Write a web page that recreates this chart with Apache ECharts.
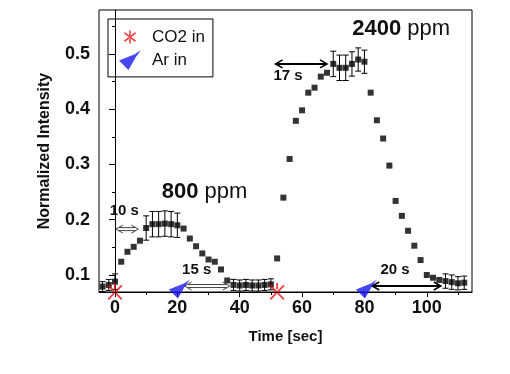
<!DOCTYPE html>
<html><head><meta charset="utf-8">
<script src="https://cdn.jsdelivr.net/npm/echarts@6/dist/echarts.min.js"></script>
<style>html,body{margin:0;padding:0;background:#fff}#c{width:510px;height:374px}</style>
</head><body><div id="c"></div>
<script>
// ---- data ----
const times = [-4,-2,0,2,4,6,8,10,12,14,16,18,20,22,24,26,28,30,32,34,36,38,40,42,44,46,48,50,52,54,56,58,60,62,64,66,68,70,72,74,76,78,80,82,84,86,88,90,92,94,96,98,100,102,104,106,108,110,112];
const intensity = [0.079,0.082,0.088,0.124,0.142,0.151,0.162,0.185,0.192,0.192,0.193,0.192,0.190,0.184,0.166,0.152,0.139,0.128,0.124,0.110,0.090,0.082,0.081,0.082,0.081,0.081,0.082,0.083,0.130,0.240,0.310,0.379,0.398,0.430,0.439,0.459,0.466,0.482,0.475,0.475,0.482,0.490,0.486,0.430,0.380,0.347,0.298,0.234,0.207,0.180,0.153,0.127,0.100,0.095,0.091,0.089,0.087,0.085,0.086];
const errors = [0.009,0.010,0.014,0,0,0,0,0.022,0.023,0.023,0.023,0.023,0.022,0,0,0,0,0,0,0,0,0.010,0.010,0.010,0.010,0.010,0.010,0.010,0,0,0,0,0,0,0,0,0,0.023,0.023,0.023,0.022,0.021,0.021,0,0,0,0,0,0,0,0,0,0,0,0,0.013,0.013,0.012,0.012];
const co2InTimes = [0, 52];
const arInTimes = [20, 80];
const yTickValues = [0.1, 0.2, 0.3, 0.4, 0.5];
const yMinorTicks = [0.15, 0.25, 0.35, 0.45, 0.55];
const xTickValues = [0, 20, 40, 60, 80, 100];
const xMinorTicks = [10, 30, 50, 70, 90, 110];
// arrow annotations
const arrowLabels = ['10 s', '15 s', '17 s', '20 s'];
const arrowFrom = [0.3, 22.3, 51.5, 82.5];
const arrowTo = [7.5, 36.8, 68.0, 104.5];
const arrowY = [0.183, 0.080, 0.482, 0.080];
const arrowLabelX = [3.0, 26.2, 55.5, 89.8];
const arrowLabelY = [0.2165, 0.110, 0.460, 0.109];
const arrowHollow = [true, true, false, false];
// concentration labels
const concValues = ['800', '2400'];
const concX = [28.7, 91.8];
const concY = [0.250, 0.545];

const X_MIN = -5.13, X_MAX = 114.5, Y_MIN = 0.0692, Y_MAX = 0.5796;
const FONT = "'Liberation Sans', Arial, sans-serif";

const asteriskPath = 'path://M6.2,0 L7.8,0 L7.8,6 L6.2,6 Z M0.4,3.0 L1.6,1.8 L13.6,15.2 L12.4,16.4 Z M0.4,15.2 L1.6,16.4 L13.6,3.0 L12.4,1.8 Z';
const asteriskLegend = 'path://M0,0 L0.01,0 Z M22,22 L21.99,22 Z M10.2,4.5 L11.8,4.5 L11.8,17.5 L10.2,17.5 Z M5.0,7.4 L5.8,6.1 L17.0,14.6 L16.2,15.9 Z M5.0,14.6 L5.8,15.9 L17.0,7.4 L16.2,6.1 Z';
const trianglePath = 'path://M0,10 L15,4 L21,0 L16,7 L9,19 Z';

const chart = echarts.init(document.getElementById('c'), null, {renderer: 'canvas'});

const points = times.map((t, i) => [t, intensity[i]]);
const errData = times.map((t, i) => [t, intensity[i], errors[i]]).filter(d => d[2] > 0);

function renderErr(params, api) {
  const x = api.value(0), y = api.value(1), e = api.value(2);
  const hi = api.coord([x, y + e]), lo = api.coord([x, y - e]);
  const w = 3, st = {stroke: '#000', lineWidth: 1};
  return {type: 'group', children: [
    {type: 'line', shape: {x1: hi[0], y1: hi[1], x2: lo[0], y2: lo[1]}, style: st},
    {type: 'line', shape: {x1: hi[0] - w, y1: hi[1], x2: hi[0] + w, y2: hi[1]}, style: st},
    {type: 'line', shape: {x1: lo[0] - w, y1: lo[1], x2: lo[0] + w, y2: lo[1]}, style: st}
  ]};
}

function renderArrow(params, api) {
  const i = params.dataIndex;
  const p1 = api.coord([arrowFrom[i], arrowY[i]]);
  const p2 = api.coord([arrowTo[i], arrowY[i]]);
  const lp = api.coord([arrowLabelX[i], arrowLabelY[i]]);
  const y = p1[1];
  const hx = 7, hy = 4;
  const children = [];
  if (arrowHollow[i]) {
    const st = {stroke: '#444', lineWidth: 1, fill: null};
    children.push({type: 'line', shape: {x1: p1[0] + 3, y1: y - 1.5, x2: p2[0] - 3, y2: y - 1.5}, style: st});
    children.push({type: 'line', shape: {x1: p1[0] + 3, y1: y + 1.5, x2: p2[0] - 3, y2: y + 1.5}, style: st});
    children.push({type: 'polyline', shape: {points: [[p1[0] + hx, y - hy], [p1[0], y], [p1[0] + hx, y + hy]]}, style: st});
    children.push({type: 'polyline', shape: {points: [[p2[0] - hx, y - hy], [p2[0], y], [p2[0] - hx, y + hy]]}, style: st});
  } else {
    const st = {stroke: '#000', lineWidth: 1.6, fill: null};
    children.push({type: 'line', shape: {x1: p1[0], y1: y, x2: p2[0], y2: y}, style: {stroke: '#000', lineWidth: 2}});
    children.push({type: 'polyline', shape: {points: [[p1[0] + hx, y - hy], [p1[0], y], [p1[0] + hx, y + hy]]}, style: st});
    children.push({type: 'polyline', shape: {points: [[p2[0] - hx, y - hy], [p2[0], y], [p2[0] - hx, y + hy]]}, style: st});
  }
  children.push({type: 'text', x: lp[0], y: lp[1], style: {text: arrowLabels[i], font: 'bold 15px ' + FONT, fill: '#111', align: 'center', verticalAlign: 'middle'}});
  return {type: 'group', children};
}

function renderConc(params, api) {
  const i = params.dataIndex;
  const p = api.coord([concX[i], concY[i]]);
  return {type: 'text', x: p[0], y: p[1], style: {
    text: '{b|' + concValues[i] + '}{n| ppm}',
    align: 'center', verticalAlign: 'middle', fill: '#111',
    rich: {b: {fontWeight: 'bold', fontSize: 22, fontFamily: FONT, fill: '#111'},
           n: {fontSize: 22, fontFamily: FONT, fill: '#111'}}
  }};
}

const option = {
  animation: false,
  backgroundColor: '#fff',
  textStyle: {fontFamily: FONT},
  grid: {left: 99, right: 38, top: 10, bottom: 82, show: true, borderColor: '#000', borderWidth: 1, backgroundColor: 'transparent'},
  legend: {
    orient: 'vertical', left: 108, top: 19,
    padding: [7, 8, 7, 11], itemGap: 2,
    itemWidth: 22, itemHeight: 22,
    borderColor: '#000', borderWidth: 1,
    textStyle: {fontSize: 17, color: '#111', fontFamily: FONT, padding: [0, 0, 0, 6]},
    data: [{name: 'CO2 in', icon: asteriskLegend}, {name: 'Ar in', icon: trianglePath}]
  },
  xAxis: [{
    type: 'value', min: X_MIN, max: X_MAX,
    name: 'Time [sec]', nameLocation: 'middle', nameGap: 37,
    nameTextStyle: {fontWeight: 'bold', fontSize: 15, color: '#111', fontFamily: FONT},
    axisLine: {lineStyle: {color: '#000', width: 1}},
    axisTick: {customValues: xTickValues, length: 5, lineStyle: {color: '#000'}},
    axisLabel: {customValues: xTickValues, fontSize: 18, fontWeight: 'bold', color: '#111', margin: 7, fontFamily: FONT},
    splitLine: {show: false}
  }, {
    type: 'value', min: X_MIN, max: X_MAX, position: 'bottom',
    axisLine: {show: false},
    axisTick: {customValues: xMinorTicks, length: 3, lineStyle: {color: '#000'}},
    axisLabel: {show: false}, splitLine: {show: false}
  }],
  yAxis: [{
    type: 'value', min: Y_MIN, max: Y_MAX,
    name: 'Normalized Intensity', nameLocation: 'middle', nameGap: 46,
    nameTextStyle: {fontWeight: 'bold', fontSize: 16, color: '#111', fontFamily: FONT},
    axisLine: {show: true, lineStyle: {color: '#000', width: 1}},
    axisTick: {show: true, customValues: yTickValues, length: 6, lineStyle: {color: '#000'}},
    axisLabel: {customValues: yTickValues, fontSize: 18, fontWeight: 'bold', color: '#111', margin: 9, fontFamily: FONT},
    splitLine: {show: false}
  }, {
    type: 'value', min: Y_MIN, max: Y_MAX, position: 'left',
    axisLine: {show: false},
    axisTick: {show: true, customValues: yMinorTicks, length: 3, lineStyle: {color: '#000'}},
    axisLabel: {show: false}, splitLine: {show: false}
  }],
  series: [
    {type: 'custom', name: 'errors', renderItem: renderErr, data: errData, z: 3, silent: true},
    {type: 'scatter', name: 'data', data: points, symbol: 'rect', symbolSize: 6, itemStyle: {color: '#000'}, z: 4, clip: false},
    {type: 'custom', name: 'arrows', renderItem: renderArrow, data: arrowFrom.map((f, i) => [f, arrowY[i]]), z: 5, silent: true},
    {type: 'custom', name: 'conc', renderItem: renderConc, data: concX.map((x, i) => [x, concY[i]]), z: 5, silent: true},
    {type: 'scatter', name: 'CO2 in', data: co2InTimes.map(t => [t, Y_MIN]), symbol: asteriskPath, symbolSize: [15, 17], symbolOffset: [0, -0.5], itemStyle: {color: '#ee1111'}, clip: false, z: 6},
    {type: 'scatter', name: 'Ar in', data: arInTimes.map(t => [t, Y_MIN]), symbol: trianglePath, symbolSize: [21, 19], symbolOffset: [2, -3], itemStyle: {color: '#1818f0'}, clip: false, z: 6}
  ]
};
chart.setOption(option);
</script>
</body></html>
